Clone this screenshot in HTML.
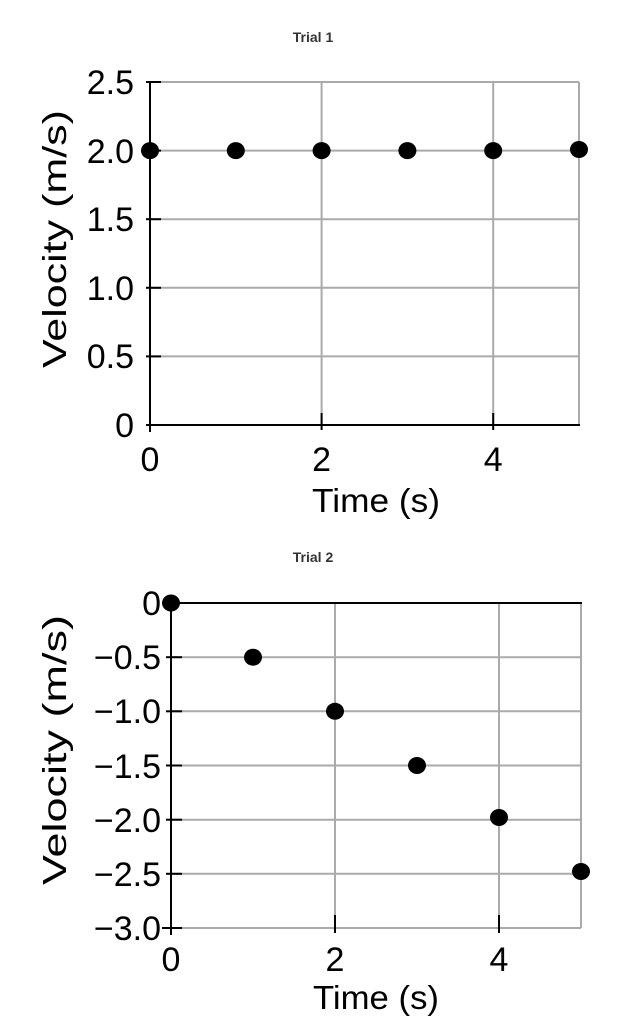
<!DOCTYPE html>
<html><head><meta charset="utf-8"><style>
html,body{margin:0;padding:0;background:#fff;width:621px;height:1022px;overflow:hidden}
svg{display:block}
.t{font-family:"Liberation Sans",sans-serif;font-size:34px;fill:#000}
.ttl{font-family:"Liberation Sans",sans-serif;font-size:14px;font-weight:bold;fill:#333}
</style></head><body>
<svg width="621" height="1022" viewBox="0 0 621 1022">
<!-- Trial 1 -->
<text class="ttl" x="313" y="42" text-anchor="middle">Trial 1</text>
<g stroke="#aaa" stroke-width="2" fill="none">
<line x1="150" y1="82" x2="579" y2="82"/>
<line x1="150" y1="150.6" x2="579" y2="150.6"/>
<line x1="150" y1="219.2" x2="579" y2="219.2"/>
<line x1="150" y1="287.8" x2="579" y2="287.8"/>
<line x1="150" y1="356.4" x2="579" y2="356.4"/>
<line x1="321.6" y1="82" x2="321.6" y2="425"/>
<line x1="493.2" y1="82" x2="493.2" y2="425"/>
<line x1="579" y1="82" x2="579" y2="425"/>
</g>
<g stroke="#000" stroke-width="2">
<line x1="150" y1="82" x2="150" y2="432"/>
<line x1="146" y1="425" x2="580" y2="425"/>
<line x1="146" y1="82" x2="161" y2="82"/>
<line x1="146" y1="150.6" x2="161" y2="150.6"/>
<line x1="146" y1="219.2" x2="161" y2="219.2"/>
<line x1="146" y1="287.8" x2="161" y2="287.8"/>
<line x1="146" y1="356.4" x2="161" y2="356.4"/>
<line x1="321.6" y1="413" x2="321.6" y2="430"/>
<line x1="493.2" y1="413" x2="493.2" y2="430"/>
</g>
<g fill="#000">
<ellipse cx="150" cy="150.6" rx="9" ry="8.5"/>
<ellipse cx="235.8" cy="150.6" rx="9" ry="8.5"/>
<ellipse cx="321.6" cy="150.6" rx="9" ry="8.5"/>
<ellipse cx="407.4" cy="150.6" rx="9" ry="8.5"/>
<ellipse cx="493.2" cy="150.6" rx="9" ry="8.5"/>
<ellipse cx="579" cy="149.5" rx="9" ry="8.5"/>
</g>
<g class="t" text-anchor="end">
<text x="134" y="94">2.5</text>
<text x="134" y="163">2.0</text>
<text x="134" y="231">1.5</text>
<text x="134" y="300">1.0</text>
<text x="134" y="368">0.5</text>
<text x="134" y="437">0</text>
</g>
<g class="t" text-anchor="middle">
<text x="150" y="471">0</text>
<text x="321.6" y="471">2</text>
<text x="493.2" y="471">4</text>
</g>
<text class="t" x="376" y="512" text-anchor="middle" textLength="128" lengthAdjust="spacingAndGlyphs" style="font-size:33px">Time (s)</text>
<text class="t" transform="translate(66,239) rotate(-90)" text-anchor="middle" textLength="258" lengthAdjust="spacingAndGlyphs" style="font-size:33px">Velocity (m/s)</text>

<!-- Trial 2 -->
<text class="ttl" x="313" y="562" text-anchor="middle">Trial 2</text>
<g stroke="#aaa" stroke-width="2" fill="none">
<line x1="171" y1="657.2" x2="581" y2="657.2"/>
<line x1="171" y1="711.3" x2="581" y2="711.3"/>
<line x1="171" y1="765.5" x2="581" y2="765.5"/>
<line x1="171" y1="819.7" x2="581" y2="819.7"/>
<line x1="171" y1="873.8" x2="581" y2="873.8"/>
<line x1="171" y1="928" x2="581" y2="928"/>
<line x1="335" y1="603" x2="335" y2="928"/>
<line x1="499" y1="603" x2="499" y2="928"/>
<line x1="581" y1="603" x2="581" y2="928"/>
</g>
<g stroke="#000" stroke-width="2">
<line x1="171" y1="603" x2="171" y2="935"/>
<line x1="166" y1="603" x2="582" y2="603"/>
<line x1="166" y1="657.2" x2="182" y2="657.2"/>
<line x1="166" y1="711.3" x2="182" y2="711.3"/>
<line x1="166" y1="765.5" x2="182" y2="765.5"/>
<line x1="166" y1="819.7" x2="182" y2="819.7"/>
<line x1="166" y1="873.8" x2="182" y2="873.8"/>
<line x1="162" y1="928" x2="182" y2="928"/>
<line x1="335" y1="915" x2="335" y2="933"/>
<line x1="499" y1="915" x2="499" y2="933"/>
</g>
<g fill="#000">
<ellipse cx="171" cy="603" rx="9" ry="8.5"/>
<ellipse cx="253" cy="657.2" rx="9" ry="8.5"/>
<ellipse cx="335" cy="711.3" rx="9" ry="8.5"/>
<ellipse cx="417" cy="765.5" rx="9" ry="8.5"/>
<ellipse cx="499" cy="817.5" rx="9" ry="8.5"/>
<ellipse cx="581" cy="871.5" rx="9" ry="8.5"/>
</g>
<g class="t" text-anchor="end">
<text x="161" y="615">0</text>
<text x="161" y="669">−0.5</text>
<text x="161" y="723">−1.0</text>
<text x="161" y="778">−1.5</text>
<text x="161" y="832">−2.0</text>
<text x="161" y="886">−2.5</text>
<text x="161" y="940">−3.0</text>
</g>
<g class="t" text-anchor="middle">
<text x="171" y="971">0</text>
<text x="335" y="971">2</text>
<text x="499" y="971">4</text>
</g>
<text class="t" x="376" y="1009" text-anchor="middle" textLength="126" lengthAdjust="spacingAndGlyphs" style="font-size:33px">Time (s)</text>
<text class="t" transform="translate(66,750) rotate(-90)" text-anchor="middle" textLength="270" lengthAdjust="spacingAndGlyphs" style="font-size:33px">Velocity (m/s)</text>
</svg>
</body></html>
